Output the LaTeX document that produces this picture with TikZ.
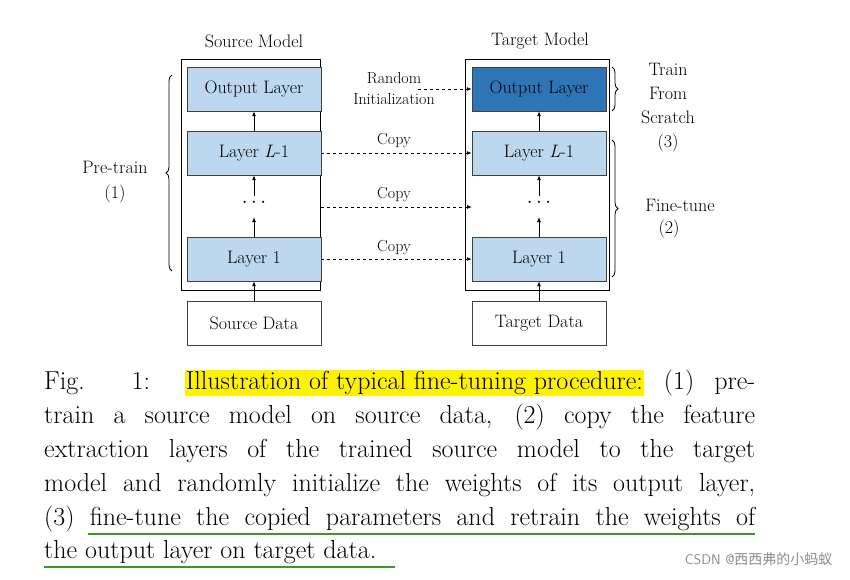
\documentclass[tikz,border=0pt]{standalone}
\usepackage{fontspec}
\newfontfamily\cjk{Noto Sans CJK SC}
\usetikzlibrary{decorations.pathreplacing,arrows.meta}
\definecolor{lb}{HTML}{BDD7EE}
\definecolor{db}{HTML}{2E75B6}
\definecolor{hl}{HTML}{FFF200}
\definecolor{ug}{HTML}{3A9A1A}
\newcommand{\capline}[1]{\parbox{711pt}{\fontsize{26}{34}\selectfont\parfillskip=0pt #1}}
\begin{document}
\begin{tikzpicture}[x=1pt,y=-1pt,
  lay/.style={draw=black!75,fill=lb,minimum width=134pt,minimum height=44pt,inner sep=0pt,font=\fontsize{18}{20}\selectfont},
  datab/.style={draw=black!75,fill=white,minimum width=134pt,minimum height=44pt,inner sep=0pt,font=\fontsize{18}{20}\selectfont},
  outer/.style={draw,line width=1pt},
  up/.style={-{Latex[length=5pt,width=4pt]},line width=0.9pt},
  cp/.style={dashed,-{Latex[length=5pt,width=4pt]},line width=0.9pt},
  lbl/.style={font=\fontsize{16}{17}\selectfont,align=center},
  br/.style={decorate,decoration={brace,amplitude=6pt},line width=0.8pt}]
\useasboundingbox (0,0) rectangle (850,579);
% source
\draw[outer] (181,59) rectangle (320,290);
\node[font=\fontsize{18}{20}\selectfont] (st) at (254,41) {Source Model};
\node[lay] (so) at (254,89) {Output Layer};
\node[lay] (sl) at (254,153) {Layer \textit{L}-1};
\node[font=\fontsize{20}{20}\selectfont\bfseries] (sd) at (254,203) {$\cdots$};
\node[lay] (s1) at (254,259) {Layer 1};
\node[datab] (sdat) at (254,323) {Source Data};
\draw[up] (sdat.north) -- (s1.south);
\draw[up] (s1.north) -- (254,217);
\draw[up] (254,196) -- (sl.south);
\draw[up] (sl.north) -- (so.south);
% target
\draw[outer] (465,59) rectangle (609,290);
\node[font=\fontsize{18}{20}\selectfont] (tt) at (540,41) {Target Model};
\node[lay,fill=db] (to) at (539,89) {Output Layer};
\node[lay] (tl) at (539,153) {Layer \textit{L}-1};
\node[font=\fontsize{20}{20}\selectfont\bfseries] (td) at (539,203) {$\cdots$};
\node[lay] (t1) at (539,259) {Layer 1};
\node[datab] (tdat) at (539,323) {Target Data};
\draw[up] (tdat.north) -- (t1.south);
\draw[up] (t1.north) -- (539,217);
\draw[up] (539,196) -- (tl.south);
\draw[up] (tl.north) -- (to.south);
% copies
\draw[cp] (sl.east) -- (tl.west);
\draw[cp] (321,207) -- (472,207);
\draw[cp] (s1.east) -- (t1.west);
\node[lbl] at (394,141) {Copy};
\node[lbl] at (394,195) {Copy};
\node[lbl] at (394,248) {Copy};
\node[lbl,font=\fontsize{16}{21}\selectfont] (ri) at (394,89) {Random\\Initialization};
\draw[cp] (418,89) -- (to.west);
% braces
\draw[br] (172,271) -- (172,75);
\node[lbl,font=\fontsize{18}{25}\selectfont] at (115,182) {Pre-train\\(1)};
\draw[br] (612,67) -- (612,111);
\node[lbl,font=\fontsize{18}{24}\selectfont] at (668,108) {Train\\From\\Scratch\\(3)};
\draw[br] (612,140) -- (612,277);
\node[lbl,font=\fontsize{18}{22}\selectfont] at (680,219) {Fine-tune\\\hspace*{-22pt}(2)};
% caption
\node[anchor=west,inner sep=0pt] at (44,383) {\capline{Fig. 1: {\setlength{\fboxsep}{1pt}\colorbox{hl}{Illustration of typical fine-tuning procedure:}} (1) pre-}};
\node[anchor=west,inner sep=0pt] at (44,417) {\capline{train a source model on source data, (2) copy the feature}};
\node[anchor=west,inner sep=0pt] at (44,451) {\capline{extraction layers of the trained source model to the target}};
\node[anchor=west,inner sep=0pt] at (44,485) {\capline{model and randomly initialize the weights of its output layer,}};
\node[anchor=west,inner sep=0pt] at (44,519) {\capline{(3) fine-tune the copied parameters and retrain the weights of}};
\node[anchor=west,inner sep=0pt] at (44,552) {\capline{the output layer on target data.\hfill\null}};
\draw[ug,line width=2.5pt] (88,534) -- (755,534);
\draw[ug,line width=2.5pt] (44,567) -- (395,567);
\node[anchor=east,text=black!45,font=\fontsize{14}{16}\selectfont] at (836,559) {\sffamily CSDN @{\cjk 西西弗的小蚂蚁}};
\end{tikzpicture}
\end{document}
